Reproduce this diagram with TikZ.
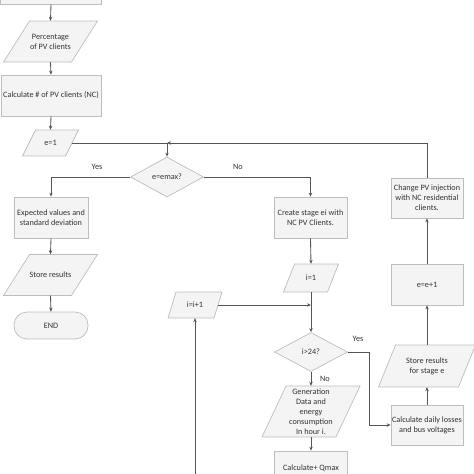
\documentclass[tikz,border=0pt]{standalone}
\usepackage{fontspec}
\setmainfont{Carlito}
\usetikzlibrary{shapes.geometric,arrows.meta,calc}
\definecolor{ln}{HTML}{555555}
\definecolor{bfill}{HTML}{F4F4F4}
\definecolor{bdraw}{HTML}{BDBDBD}
\definecolor{tx}{HTML}{333333}
\tikzset{
  shapestyle/.style={draw=bdraw, fill=bfill, line width=0.7pt},
  txt/.style={text=tx, font=\fontsize{8.2}{10}\selectfont, align=center, inner sep=0pt},
  box/.style={shapestyle, txt, inner sep=1pt},
  dia/.style={shapestyle, txt, diamond},
  term/.style={shapestyle, txt, rounded corners=13pt},
  lbl/.style={text=tx, font=\fontsize{8.2}{10}\selectfont, inner sep=0pt},
  conn/.style={draw=ln, line width=0.85pt},
  arr/.style={conn, -{Stealth[length=4pt,width=3.4pt]}},
}
\newcommand\pgram[7]{%
 \filldraw[shapestyle] ({#2-#4/2-#6/2},{#3+#5/2}) -- ({#2+#4/2-#6/2},{#3+#5/2}) -- ({#2+#4/2+#6/2},{#3-#5/2}) -- ({#2-#4/2+#6/2},{#3-#5/2}) -- cycle;
 \node[txt, minimum width=#4, minimum height=#5] (#1) at (#2,#3) {#7};}
\begin{document}
\begin{tikzpicture}[x=1pt,y=-1pt]
\clip (0,0) rectangle (474,474);
% left column
\node[box, minimum width=101, minimum height=30] (topbox) at (51,-11) {};
\pgram{perc}{50.5}{41.5}{68}{41}{26}{Percentage\\of PV clients}
\node[box, minimum width=100, minimum height=41] (calcnc) at (51,95.5) {Calculate \# of PV clients (NC)};
\pgram{eone}{50.5}{143}{43}{26}{13}{e=1}
\coordinate (junc) at (167,143);
\node[dia, minimum width=73, minimum height=40] (emax) at (167,177) {e=emax?};
\node[box, minimum width=74, minimum height=41] (expect) at (51,217.5) {Expected values and\\standard deviation};
\pgram{store}{50.5}{275}{68}{41}{26}{Store results}
\node[term, minimum width=74, minimum height=27] (endn) at (51,325.5) {END};
% middle column
\node[box, minimum width=73, minimum height=41] (create) at (310.5,217.5) {Create stage ei with\\NC PV Clients.};
\pgram{ione}{311}{278}{44}{28}{11}{i=1}
\pgram{iinc}{195}{305}{46}{26}{8}{i=i+1}
\coordinate (jtwo) at (311,305);
\coordinate (loopin) at (195,480);
\node[dia, minimum width=73, minimum height=39] (itf) at (311,352) {i>24?};
\pgram{gen}{311}{411.5}{74}{51}{24}{Generation\\Data and\\energy\\consumption\\In hour i.}
\node[box, minimum width=73, minimum height=34] (qmax) at (311,468) {Calculate+ Qmax};
% right column
\node[box, minimum width=72, minimum height=40] (daily) at (427,425) {Calculate daily losses\\and bus voltages};
\pgram{storee}{427}{366}{80}{42}{17}{Store results\\for stage e}
\node[box, minimum width=72, minimum height=41] (eplus) at (427,284.5) {e=e+1};
\node[box, minimum width=72, minimum height=40] (change) at (427,198) {Change PV injection\\with NC residential\\clients.};
% labels
\node[lbl] (yesa) at (97,167) {Yes};
\node[lbl] (noa) at (238,167) {No};
\node[lbl] (yesb) at (358,339) {Yes};
\node[lbl] (nob) at (325,379) {No};
% connectors
\draw[arr] (topbox.south) -- (perc.north);
\draw[arr] (perc.south) -- (calcnc.north);
\draw[arr] (calcnc.south) -- (eone.north);
\draw[conn] (eone.east) -- (junc);
\draw[arr] (change.north) |- (junc);
\draw[arr] (junc) -- (emax.north);
\draw[arr] (emax.west) -| (expect.north);
\draw[arr] (emax.east) -| (create.north);
\draw[arr] (expect.south) -- (store.north);
\draw[arr] (store.south) -- (endn.north);
\draw[arr] (create.south) -- (ione.north);
\draw[arr] (ione.south) -- (itf.north);
\draw[arr] (iinc.east) -- (jtwo);
\draw[arr] (loopin) -- (iinc.south);
\draw[arr] (itf.south) -- (gen.north);
\draw[arr] (itf.east) -- ++(22,0) |- (daily.west);
\draw[arr] (daily.north) -- (storee.south);
\draw[arr] (storee.north) -- (eplus.south);
\draw[arr] (eplus.north) -- (change.south);
\draw[arr] (gen.south) -- (qmax.north);
\end{tikzpicture}
\end{document}
